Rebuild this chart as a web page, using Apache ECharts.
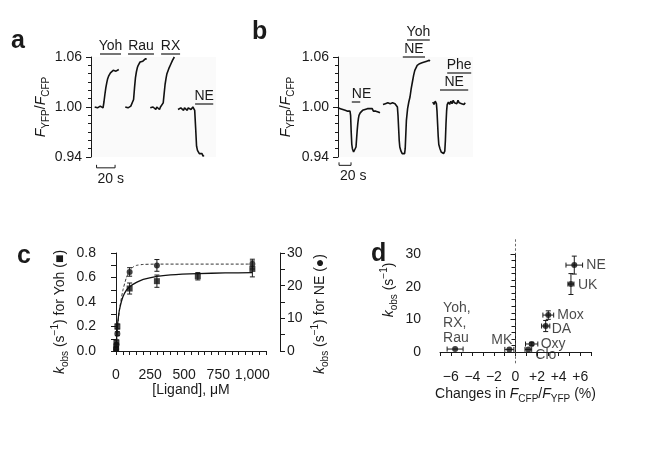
<!DOCTYPE html>
<html>
<head>
<meta charset="utf-8">
<script src="https://cdn.jsdelivr.net/npm/echarts@6/dist/echarts.min.js"></script>
<style>
  html, body { margin: 0; padding: 0; background: #fff; }
  #chart { width: 650px; height: 475px; }
</style>
</head>
<body>
<div id="chart"></div>
<script>
// ---- panel a: FRET traces, [time (s), FYFP/FCFP] ----
var aYoh = [[4,1.000],[5,0.999],[6,1.001],[7,0.999],[8,1.000],[9,0.998],[10,1.001],[11,0.999],[12,1.000],[13,0.999],
  [14,1.006],[15,1.015],[16,1.023],[17,1.029],[18,1.034],[19,1.037],[20,1.039],[21,1.041],[22,1.042],[23,1.041],
  [24,1.044],[25,1.042],[26,1.045],[27,1.043],[28,1.044],[29,1.042],[30,1.045]]
var aRau = [[37,1.000],[38,0.999],[39,1.001],[40,0.999],[41,1.000],[42,0.999],[43,1.001],[44,0.999],[45,1.000],
  [46,1.009],[47,1.023],[48,1.035],[49,1.042],[50,1.047],[51,1.050],[52,1.052],[53,1.054],[54,1.053],[55,1.056],
  [56,1.055],[57,1.057],[58,1.056],[59,1.058],[60,1.057]]
var aRX = [[64,0.999],[65,1.001],[66,0.997],[67,1.000],[68,0.998],[69,1.001],[70,0.997],[71,1.000],[72,0.998],
  [73,1.001],[74,0.997],[75,1.000],[76,0.998],[77,1.000],[78,1.005],[79,1.016],[80,1.027],[81,1.034],[82,1.040],
  [83,1.042],[84,1.046],[85,1.047],[86,1.051],[87,1.052],[88,1.056],[89,1.057],[90,1.060]]
var aNE = [[94,0.997],[95,0.999],[96,0.996],[97,0.999],[98,0.997],[99,1.000],[100,0.996],[101,0.999],[102,0.997],
  [103,1.000],[104,0.996],[105,0.999],[106,0.997],[107,1.000],[108,0.997],[109,0.999],[110,1.000],[111,0.998],
  [112,0.996],[113,0.975],[114,0.953],[115,0.948],[116,0.947],[117,0.944],[118,0.946],[119,0.943],[120,0.944],
  [121,0.941],[122,0.942]]
// drug application bars: [label, start (s), end (s), level, label align]
var aBars = [['Yoh', 9.7, 32.4, 1.0636, 'center'], ['Rau', 40, 68, 1.0636, 'center'],
  ['RX', 75.7, 96.2, 1.0636, 'center'], ['NE', 112.4, 132, 1.0036, 'center']]
var aScaleBar = [6, 26, 0.927]

// ---- panel b ----
var bNE = [[0,0.999],[2,1.001],[4,0.998],[6,0.999],[8,0.997],[10,0.998],[12,0.996],[14,0.998],[16,0.995],[18,0.997],
  [20,0.995],[21,0.990],[22,0.970],[23,0.955],[24,0.950],[26,0.946],[28,0.944],[29,0.947],[30,0.952],[31,0.962],
  [32,0.972],[33,0.980],[34,0.986],[35,0.990],[37,0.993],[39,0.991],[41,0.996],[43,0.994],[45,0.997],[47,0.995],
  [49,0.998],[51,0.996],[53,0.998],[55,0.996],[57,0.998],[59,0.995],[61,0.997],[63,0.995],[65,0.996],[67,0.994],
  [69,0.995],[70,0.993]]
var bYohNE = [[75,1.003],[77,1.001],[79,1.004],[81,1.002],[83,1.005],[85,1.003],[87,1.004],[89,1.002],[91,1.005],
  [93,1.003],[95,1.004],[97,1.002],[99,1.000],[100,0.990],[101,0.975],[102,0.960],[103,0.952],[105,0.947],
  [107,0.944],[109,0.946],[111,0.944],[112,0.950],[114,0.984],[116,0.998],[118,1.006],[120,1.012],[122,1.022],
  [124,1.030],[126,1.038],[128,1.044],[130,1.047],[132,1.050],[134,1.049],[136,1.052],[138,1.051],[140,1.053],
  [142,1.052],[144,1.054],[146,1.053],[148,1.055],[150,1.054],[152,1.056],[153,1.055]]
var bPheNE = [[158,1.006],[160,1.003],[162,1.007],[164,1.004],[165,0.995],[166,0.980],[167,0.965],[168,0.955],
  [170,0.950],[172,0.946],[174,0.948],[176,0.944],[178,0.947],[179,0.960],[180,0.980],[181,0.995],[182,1.003],
  [184,1.006],[186,1.003],[188,1.007],[190,1.004],[192,1.008],[194,1.005],[196,1.007],[198,1.004],[200,1.008],
  [202,1.005],[204,1.007],[206,1.004],[208,1.006],[210,1.003],[212,1.005]]
var bBars = [['NE', 23, 37, 1.006, 'left'], ['NE', 108, 145, 1.060, 'center'], ['Yoh', 115, 153, 1.0804, 'center'],
  ['NE', 170, 217, 1.0204, 'center'], ['Phe', 182, 222, 1.0408, 'center']]
var bScaleBar = [1.7, 21.7, 0.930]
var scaleLabel = '20 s'

// ---- panel c: kobs vs ligand concentration ----
var cYohConc = [1, 3, 10, 100, 300, 600, 1000]
var cYoh = [0.02, 0.07, 0.2, 0.51, 0.57, 0.61, 0.67]
var cYohErr = [0.01, 0.02, 0.02, 0.045, 0.05, 0.03, 0.065]
var cNEConc = [1, 3, 10, 100, 300, 1000]
var cNE = [0.6, 1.9, 5.3, 24.2, 26.2, 26.6]
var cNEErr = [0.3, 0.5, 0.6, 1.3, 1.8, 1.5]
var cYohFitX = [0, 5, 10, 20, 30, 50, 75, 100, 150, 200, 300, 400, 600, 800, 1000]
var cYohFitY = [0, 0.12, 0.2, 0.3, 0.36, 0.44, 0.495, 0.525, 0.56, 0.585, 0.61, 0.622, 0.632, 0.637, 0.64]
var cNEFitX = [0, 10, 25, 50, 75, 100, 125, 150, 200, 300, 1000]
var cNEFitY = [0, 6.5, 12.5, 18.5, 22.3, 24.6, 25.7, 26.2, 26.5, 26.6, 26.6]

// ---- panel d: kobs vs FRET change ----
var dDrugs = ['Yoh,\nRX,\nRau', 'MK', 'Clo', 'Oxy', 'DA', 'Mox', 'UK', 'NE']
var dShift = [-5.6, -0.57, 1.19, 1.5, 2.8, 3.04, 5.14, 5.45]
var dShiftErr = [0.74, 0.42, 0.31, 0.57, 0.38, 0.5, 0.28, 0.77]
var dKobs = [0.9, 0.8, 0.8, 2.45, 7.95, 11.3, 20.8, 26.6]
var dKobsErr = [0, 0, 0, 0.5, 1.7, 1.3, 3.2, 2.75]
var dZeroLine = [-3.5, 34.5]

var FONT = '"Liberation Sans", Arial, Helvetica, sans-serif'
var INK = '#1a1a1a'

var RICH = {
  n: { fontSize: 14, fontFamily: FONT, color: INK, lineHeight: 20 },
  i: { fontSize: 14, fontFamily: FONT, color: INK, fontStyle: 'italic', lineHeight: 20 },
  sub: { fontSize: 10, fontFamily: FONT, color: INK, lineHeight: 10, verticalAlign: 'bottom' },
  sup: { fontSize: 10, fontFamily: FONT, color: INK, lineHeight: 10, verticalAlign: 'top' }
}
var ratioName = '{i|F}{sub|YFP}{n|/}{i|F}{sub|CFP}'
var kobs = '{i|k}{sub|obs}{n| (s}{sup|−1}{n|)}'

// label placement for panel d (layout, not data)
var dLabelLayout = {
  'Yoh,\nRX,\nRau': { position: 'top', align: 'left', offset: [-12, 5] },
  'MK': { position: 'top', align: 'right', offset: [3, 6] },
  'Clo': { position: 'right', offset: [-1, 6] },
  'Oxy': { position: 'right', offset: [1, 0] },
  'DA': { position: 'right', offset: [-2, 3] },
  'Mox': { position: 'right', offset: [1, 0] },
  'UK': { position: 'right', offset: [-1, 1] },
  'NE': { position: 'right', offset: [4, 0] }
}

function pairs (xs, ys) {
  return xs.map(function (x, i) { return [x, ys[i]] })
}

function txt (text, x, y, align, vAlign, font) {
  return {
    type: 'text', x: x, y: y,
    style: { text: text, font: font || ('14px ' + FONT), fill: INK,
      align: align, textAlign: align, verticalAlign: vAlign, textVerticalAlign: vAlign }
  }
}

function renderBars (bars) {
  return function (params, api) {
    var p1 = api.coord([api.value(0), api.value(2)])
    var p2 = api.coord([api.value(1), api.value(2)])
    var item = bars[params.dataIndex]
    var left = item[4] === 'left'
    return {
      type: 'group',
      children: [
        { type: 'line', shape: { x1: p1[0], y1: p1[1], x2: p2[0], y2: p2[1] }, style: { stroke: INK, lineWidth: 1.2 } },
        txt(item[0], left ? p1[0] : (p1[0] + p2[0]) / 2, p1[1] - 1, left ? 'left' : 'center', 'bottom')
      ]
    }
  }
}

function renderScale (params, api) {
  var p1 = api.coord([api.value(0), api.value(2)])
  var p2 = api.coord([api.value(1), api.value(2)])
  return {
    type: 'group',
    children: [
      { type: 'polyline', shape: { points: [[p1[0], p1[1] - 3], [p1[0], p1[1]], [p2[0], p2[1]], [p2[0], p2[1] - 3]] },
        style: { stroke: INK, fill: null, lineWidth: 1 } },
      txt(scaleLabel, p1[0] + 1, p1[1] + 4, 'left', 'top')
    ]
  }
}

// value = [x, y, xErr, yErr]
function renderErr (params, api) {
  var x = api.value(0), y = api.value(1), xe = api.value(2), ye = api.value(3)
  var kids = []
  var st = { stroke: INK, lineWidth: 1 }
  var cap = 2.5
  if (ye > 0) {
    var t = api.coord([x, y + ye]), b = api.coord([x, y - ye])
    kids.push({ type: 'line', shape: { x1: t[0], y1: t[1], x2: b[0], y2: b[1] }, style: st })
    kids.push({ type: 'line', shape: { x1: t[0] - cap, y1: t[1], x2: t[0] + cap, y2: t[1] }, style: st })
    kids.push({ type: 'line', shape: { x1: b[0] - cap, y1: b[1], x2: b[0] + cap, y2: b[1] }, style: st })
  }
  if (xe > 0) {
    var l = api.coord([x - xe, y]), r = api.coord([x + xe, y])
    kids.push({ type: 'line', shape: { x1: l[0], y1: l[1], x2: r[0], y2: r[1] }, style: st })
    kids.push({ type: 'line', shape: { x1: l[0], y1: l[1] - cap, x2: l[0], y2: l[1] + cap }, style: st })
    kids.push({ type: 'line', shape: { x1: r[0], y1: r[1] - cap, x2: r[0], y2: r[1] + cap }, style: st })
  }
  return { type: 'group', children: kids }
}

function renderZero (params, api) {
  var t = api.coord([api.value(0), api.value(2)])
  var b = api.coord([api.value(0), api.value(1)])
  return { type: 'line', shape: { x1: t[0], y1: t[1], x2: b[0], y2: b[1] },
    style: { stroke: '#444', lineWidth: 0.8, lineDash: [2.5, 2] } }
}

var axisLine = { lineStyle: { color: INK, width: 1 } }
var tickLabel = { color: INK, fontSize: 14, fontFamily: FONT }

function traceAxis (gridIndex) {
  return {
    gridIndex: gridIndex, type: 'value', min: 0.94, max: 1.06, interval: 0.06,
    axisLine: { show: true, lineStyle: axisLine.lineStyle },
    axisTick: { show: true, length: 5, lineStyle: axisLine.lineStyle },
    minorTick: { show: true, splitNumber: 6, length: 3, lineStyle: axisLine.lineStyle },
    axisLabel: Object.assign({ margin: 9, formatter: function (v) { return v.toFixed(2) } }, tickLabel),
    splitLine: { show: false },
    name: ratioName, nameLocation: 'middle', nameRotate: 90, nameGap: 40,
    nameTextStyle: { rich: RICH }
  }
}

function traceSeries (data, axis) {
  return {
    type: 'line', xAxisIndex: axis, yAxisIndex: axis, data: data, showSymbol: false, clip: false,
    lineStyle: { color: '#111', width: 1.6 }, silent: true
  }
}

var chart = echarts.init(document.getElementById('chart'), null, { renderer: 'canvas' })

var option = {
  animation: false,
  backgroundColor: '#fff',
  textStyle: { fontFamily: FONT },
  grid: [
    { left: 91, top: 57, width: 125, height: 100, show: true, backgroundColor: '#fafafa', borderWidth: 0 },
    { left: 338, top: 57, width: 135, height: 100, show: true, backgroundColor: '#fafafa', borderWidth: 0 },
    { left: 116, top: 253, width: 150, height: 98 },
    { left: 440, top: 254, width: 151, height: 98 }
  ],
  xAxis: [
    { gridIndex: 0, type: 'value', min: 0, max: 135, show: false },
    { gridIndex: 1, type: 'value', min: 0, max: 225, show: false },
    {
      gridIndex: 2, type: 'value', min: 0, max: 1100, interval: 50, offset: 11,
      axisLine: axisLine, axisTick: { length: 4, lineStyle: axisLine.lineStyle },
      axisLabel: Object.assign({ margin: 6, formatter: function (v) {
        if (v % 250 !== 0) return ''
        return v === 1000 ? '1,000' : String(v)
      } }, tickLabel),
      splitLine: { show: false },
      name: '[Ligand], μM', nameLocation: 'middle', nameGap: 20,
      nameTextStyle: { color: INK, fontSize: 14, fontFamily: FONT }
    },
    {
      gridIndex: 3, type: 'value', min: -7, max: 7, interval: 1, offset: 12,
      axisLine: axisLine, axisTick: { length: 4, lineStyle: axisLine.lineStyle },
      axisLabel: Object.assign({ margin: 6, formatter: function (v) {
        if (v % 2 !== 0) return ''
        if (v > 0) return '+' + v
        if (v < 0) return '−' + Math.abs(v)
        return '0'
      } }, tickLabel),
      splitLine: { show: false },
      name: '{n|Changes in }{i|F}{sub|CFP}{n|/}{i|F}{sub|YFP}{n| (%)}', nameLocation: 'middle', nameGap: 20,
      nameTextStyle: { rich: RICH }
    }
  ],
  yAxis: [
    traceAxis(0),
    Object.assign(traceAxis(1), { nameGap: 42 }),
    {
      gridIndex: 2, type: 'value', min: 0, max: 0.8, interval: 0.2, offset: 12,
      axisLine: { show: true, lineStyle: axisLine.lineStyle },
      axisTick: { show: true, length: 5, lineStyle: axisLine.lineStyle },
      minorTick: { show: true, splitNumber: 2, length: 5, lineStyle: axisLine.lineStyle },
      axisLabel: Object.assign({ margin: 8, formatter: function (v) { return v.toFixed(1) } }, tickLabel),
      splitLine: { show: false },
      name: kobs + '{n| for Yoh (■)}', nameLocation: 'middle', nameRotate: 90, nameGap: 34,
      nameTextStyle: { rich: RICH, padding: [0, 20, 0, 0] }
    },
    {
      gridIndex: 2, type: 'value', min: 0, max: 30, interval: 10, offset: 14, position: 'right',
      axisLine: { show: true, lineStyle: axisLine.lineStyle },
      axisTick: { show: true, length: 5, lineStyle: axisLine.lineStyle },
      minorTick: { show: true, splitNumber: 2, length: 5, lineStyle: axisLine.lineStyle },
      axisLabel: Object.assign({ margin: 7 }, tickLabel),
      splitLine: { show: false },
      name: kobs + '{n| for NE (●)}', nameLocation: 'middle', nameRotate: 90, nameGap: 30,
      nameTextStyle: { rich: RICH, padding: [0, 24, 0, 0] }
    },
    {
      gridIndex: 3, type: 'value', min: 0, max: 30, interval: 10, offset: 10,
      axisLine: { show: true, lineStyle: axisLine.lineStyle },
      axisTick: { show: true, length: 5, lineStyle: axisLine.lineStyle },
      minorTick: { show: true, splitNumber: 5, length: 4, lineStyle: axisLine.lineStyle },
      axisLabel: Object.assign({ margin: 9 }, tickLabel),
      splitLine: { show: false },
      name: kobs, nameLocation: 'middle', nameRotate: 90, nameGap: 31,
      nameTextStyle: { rich: RICH, padding: [0, 0, 0, 26] }
    }
  ],
  graphic: [
    txt('a', 11, 41, 'left', 'middle', 'bold 25px ' + FONT),
    txt('b', 252, 32, 'left', 'middle', 'bold 25px ' + FONT),
    txt('c', 17, 256, 'left', 'middle', 'bold 25px ' + FONT),
    txt('d', 371, 254, 'left', 'middle', 'bold 25px ' + FONT)
  ],
  series: [
    traceSeries(aYoh, 0), traceSeries(aRau, 0), traceSeries(aRX, 0), traceSeries(aNE, 0),
    { type: 'custom', xAxisIndex: 0, yAxisIndex: 0, renderItem: renderBars(aBars), silent: true,
      data: aBars.map(function (b) { return [b[1], b[2], b[3]] }) },
    { type: 'custom', xAxisIndex: 0, yAxisIndex: 0, renderItem: renderScale, silent: true, data: [aScaleBar] },

    traceSeries(bNE, 1), traceSeries(bYohNE, 1), traceSeries(bPheNE, 1),
    { type: 'custom', xAxisIndex: 1, yAxisIndex: 1, renderItem: renderBars(bBars), silent: true,
      data: bBars.map(function (b) { return [b[1], b[2], b[3]] }) },
    { type: 'custom', xAxisIndex: 1, yAxisIndex: 1, renderItem: renderScale, silent: true, data: [bScaleBar] },

    // panel c
    { type: 'line', xAxisIndex: 2, yAxisIndex: 3, data: pairs(cNEFitX, cNEFitY), showSymbol: false, smooth: 0.2,
      lineStyle: { color: '#333', width: 1, type: [3, 2] }, silent: true },
    { type: 'line', xAxisIndex: 2, yAxisIndex: 2, data: pairs(cYohFitX, cYohFitY), showSymbol: false, smooth: 0.2,
      lineStyle: { color: '#111', width: 1.3 }, silent: true },
    { type: 'custom', xAxisIndex: 2, yAxisIndex: 2, renderItem: renderErr, silent: true,
      data: cYohConc.map(function (x, i) { return [x, cYoh[i], 0, cYohErr[i]] }) },
    { type: 'custom', xAxisIndex: 2, yAxisIndex: 3, renderItem: renderErr, silent: true,
      data: cNEConc.map(function (x, i) { return [x, cNE[i], 0, cNEErr[i]] }) },
    { type: 'scatter', xAxisIndex: 2, yAxisIndex: 2, data: pairs(cYohConc, cYoh), symbol: 'rect', symbolSize: 6,
      itemStyle: { color: '#111' }, silent: true },
    { type: 'scatter', xAxisIndex: 2, yAxisIndex: 3, data: pairs(cNEConc, cNE), symbol: 'circle', symbolSize: 6,
      itemStyle: { color: '#111' }, silent: true },

    // panel d
    { type: 'custom', xAxisIndex: 3, yAxisIndex: 4, renderItem: renderZero, silent: true, data: [[0, dZeroLine[0], dZeroLine[1]]] },
    { type: 'custom', xAxisIndex: 3, yAxisIndex: 4, renderItem: renderErr, silent: true,
      data: dShift.map(function (x, i) { return [x, dKobs[i], dShiftErr[i], dKobsErr[i]] }) },
    {
      type: 'scatter', xAxisIndex: 3, yAxisIndex: 4, symbol: 'circle', symbolSize: 6, silent: true,
      itemStyle: { color: '#111' },
      data: dShift.map(function (x, i) {
        var lay = dLabelLayout[dDrugs[i]]
        return {
          value: [x, dKobs[i]],
          label: Object.assign({ show: true, formatter: dDrugs[i], color: INK, fontSize: 14,
            fontFamily: FONT, lineHeight: 15, distance: 5 }, lay)
        }
      })
    }
  ]
}

chart.setOption(option)
</script>
</body>
</html>
